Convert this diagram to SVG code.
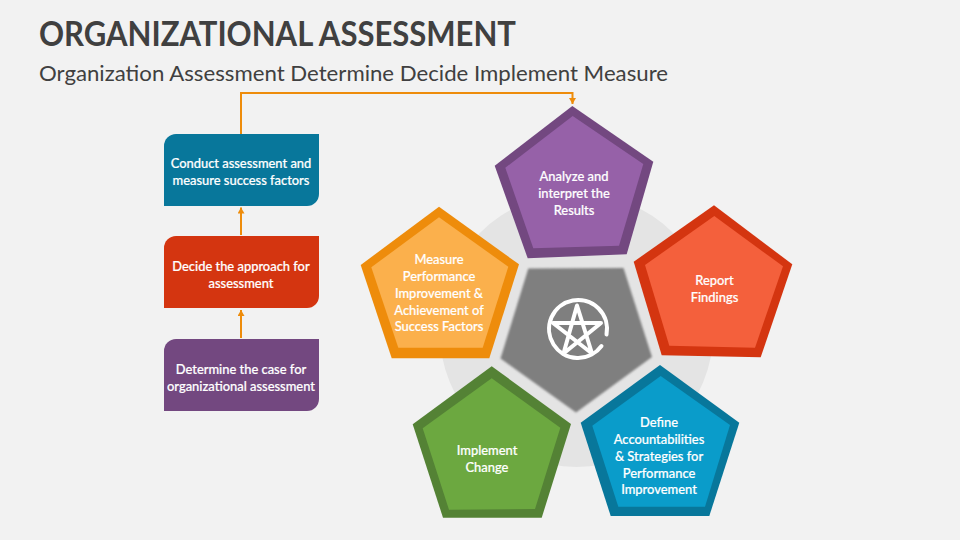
<svg xmlns="http://www.w3.org/2000/svg" width="960" height="540" viewBox="0 0 960 540">
<style>
.title{font:700 34px Lato,"Open Sans",sans-serif;fill:#404040}
.sub{font:400 21.6px Lato,"Open Sans",sans-serif;fill:#404040}
.lbl{font:500 12.9px Lato,"Open Sans",sans-serif;fill:#fff;stroke:#fff;stroke-width:.2;text-anchor:middle}
.conn{fill:none;stroke:#ee8c0b;stroke-width:2}
.ico{fill:none;stroke:#fff;stroke-width:4;stroke-linecap:round;stroke-linejoin:round}
</style>
<defs>
<marker id="ah" markerUnits="userSpaceOnUse" markerWidth="7" markerHeight="7" refX="6" refY="3.500" orient="auto"><path d="M0 0L6 3.500L0 7Z" fill="#ee8c0b"/></marker>
<filter id="glow" x="-10%" y="-10%" width="120%" height="120%"><feGaussianBlur stdDeviation="0.8"/></filter>
</defs>
<rect width="960" height="540" fill="#f2f2f2"/>
<text class="title" x="39" y="46" textLength="477" lengthAdjust="spacingAndGlyphs">ORGANIZATIONAL ASSESSMENT</text>
<text class="sub" x="39" y="81" textLength="629" lengthAdjust="spacingAndGlyphs">Organization Assessment Determine Decide Implement Measure</text>
<circle cx="576.500" cy="330" r="137" fill="#e4e4e4"/>
<g id="connectors">
<path class="conn" d="M241 134V93H572.500V104" marker-end="url(#ah)"/>
<path class="conn" d="M241 235V207.500" marker-end="url(#ah)"/>
<path class="conn" d="M241 338V310" marker-end="url(#ah)"/>
</g>
<g id="box-conduct">
<path d="M176 134H319V194A12 12 0 0 1 307 206H164V146A12 12 0 0 1 176 134Z" fill="#08779b"/>
<text class="lbl" x="241" y="168">Conduct assessment and</text>
<text class="lbl" x="241" y="185">measure success factors</text>
</g>
<g id="box-decide">
<path d="M176 236H319V296A12 12 0 0 1 307 308H164V248A12 12 0 0 1 176 236Z" fill="#d43510"/>
<text class="lbl" x="241" y="271">Decide the approach for</text>
<text class="lbl" x="241" y="288">assessment</text>
</g>
<g id="box-determine">
<path d="M176 339H319V399A12 12 0 0 1 307 411H164V351A12 12 0 0 1 176 339Z" fill="#734880"/>
<text class="lbl" x="241" y="374">Determine the case for</text>
<text class="lbl" x="241" y="391">organizational assessment</text>
</g>
<g id="pent-center">
<path d="M528.300 268.500L623.500 268L652 357L576 412.500L500.500 358.500Z" fill="#7f7f7f" filter="url(#glow)"/>
<g class="ico">
<path d="M606.500 334.500A29 29 0 1 0 601.500 346"/>
<path d="M577 305.500L592 353.500L553 323H601L563.500 353.500Z"/>
</g>
</g>
<g id="pent-analyze">
<path d="M572.300 106L653.300 161.700L626.700 254.300L527.700 258.300L494.700 165.700Z" fill="#734880"/>
<path d="M572.700 116L643.300 164L619 245.700L533.300 248.300L505.300 167.700Z" fill="#9661a8"/>
<text class="lbl" x="574" y="181">Analyze and</text>
<text class="lbl" x="574" y="198">interpret the</text>
<text class="lbl" x="574" y="215">Results</text>
</g>
<g id="pent-report">
<path d="M714 205.300L792.300 264.300L760.700 357.300L661.700 355.300L633.700 261.700Z" fill="#d43510"/>
<path d="M714.300 216L783 266.300L755 347.700L669.300 345.700L645 265Z" fill="#f4603c"/>
<text class="lbl" x="714.500" y="285">Report</text>
<text class="lbl" x="714.500" y="302">Findings</text>
</g>
<g id="pent-define">
<path d="M660 365L739.300 422.700L709.300 516H610.700L580.700 422.700Z" fill="#08779b"/>
<path d="M660.700 376L730 425L705 506.700H618.300L592.300 425.700Z" fill="#0a9cca"/>
<text class="lbl" x="659" y="427">Define</text>
<text class="lbl" x="659" y="444">Accountabilities</text>
<text class="lbl" x="659" y="461">&amp; Strategies for</text>
<text class="lbl" x="659" y="478">Performance</text>
<text class="lbl" x="659" y="494">Improvement</text>
</g>
<g id="pent-implement">
<path d="M491.700 366.300L571 424L541.700 517.700H443L412.700 424.300Z" fill="#548235"/>
<path d="M491.700 378.300L560.300 427.700L535 509L449 509.700L422.700 428.300Z" fill="#6ca840"/>
<text class="lbl" x="487" y="455">Implement</text>
<text class="lbl" x="487" y="472">Change</text>
</g>
<g id="pent-measure">
<path d="M439 206.700L519 264.300L489.300 358.300H391.700L360.700 265Z" fill="#ee8c0b"/>
<path d="M439 217.300L508.300 266.700L482.700 347.700H398.300L371.300 267.300Z" fill="#fbb04c"/>
<text class="lbl" x="439" y="264">Measure</text>
<text class="lbl" x="439" y="281">Performance</text>
<text class="lbl" x="439" y="298">Improvement &amp;</text>
<text class="lbl" x="439" y="315">Achievement of</text>
<text class="lbl" x="439" y="331">Success Factors</text>
</g>
</svg>
